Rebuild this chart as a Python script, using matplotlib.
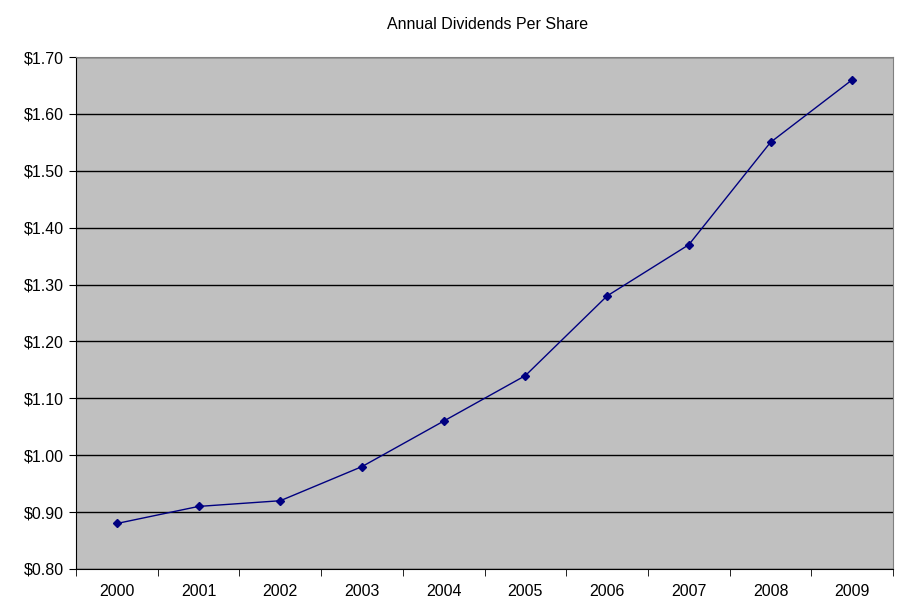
import matplotlib.pyplot as plt
from matplotlib.ticker import FixedLocator

years = ['2000', '2001', '2002', '2003', '2004', '2005', '2006', '2007', '2008', '2009']
dividends = [0.88, 0.91, 0.92, 0.98, 1.06, 1.14, 1.28, 1.37, 1.55, 1.66]
y_ticks = [0.80, 0.90, 1.00, 1.10, 1.20, 1.30, 1.40, 1.50, 1.60, 1.70]

plt.rcParams['font.family'] = ['Liberation Sans', 'DejaVu Sans']

fig = plt.figure(figsize=(9.03, 6.15), dpi=100)
ax = fig.add_axes([0.0842, 0.0748, 0.9048, 0.8325])
ax.set_facecolor('#c0c0c0')

x = list(range(len(years)))
ax.plot(x, dividends, color='#000080', linewidth=1, marker='D', markersize=4.5, zorder=3)

ax.set_xlim(-0.5, len(years) - 0.5)
ax.set_ylim(0.80, 1.70)
ax.set_yticks(y_ticks)
ax.set_yticklabels([f'${v:.2f}' for v in y_ticks], fontsize=11.5)
ax.yaxis.grid(True, color='black', linewidth=1)
ax.set_axisbelow(True)

ax.set_xticks(x)
ax.set_xticklabels(years, fontsize=11.5)
ax.xaxis.set_minor_locator(FixedLocator([i - 0.5 for i in range(len(years) + 1)]))
ax.tick_params(axis='x', which='major', length=0, pad=11)
ax.tick_params(axis='x', which='minor', length=5, direction='out', color='black')
ax.tick_params(axis='y', length=5, direction='out', pad=4)

for side in ['top', 'right']:
    ax.spines[side].set_color('#808080')
for side in ['left', 'bottom']:
    ax.spines[side].set_color('black')

fig.text(0.540, 0.960, 'Annual Dividends Per Share', ha='center', va='center', fontsize=11.5)

fig.savefig('out.png', dpi=100, facecolor='white')
